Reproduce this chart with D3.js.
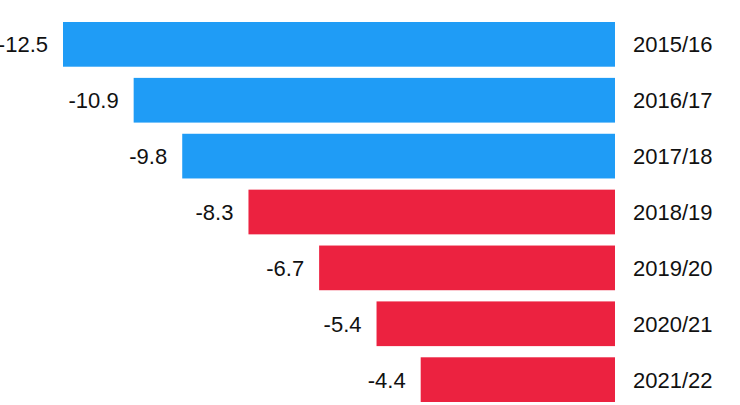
<!DOCTYPE html>
<html>
<head>
<meta charset="utf-8">
<script src="https://cdn.jsdelivr.net/npm/d3@7"></script>
<style>
  body { margin: 0; background: #fff; }
  svg text { font-family: "Liberation Sans", Arial, sans-serif; fill: #111; }
</style>
</head>
<body>
<div id="chart"></div>
<script>
// Data
var years  = ["2015/16", "2016/17", "2017/18", "2018/19", "2019/20", "2020/21", "2021/22"];
var values = [-12.5, -10.9, -9.8, -8.3, -6.7, -5.4, -4.4];
var groups = ["blue", "blue", "blue", "red", "red", "red", "red"];

var width = 740, height = 405;

var colors = { blue: "#1f9cf6", red: "#ec2240" };

var svg = d3.select("#chart")
  .append("svg")
    .attr("width", width)
    .attr("height", height);

// scales
var x = d3.scaleLinear()
  .domain([-12.5, 0])
  .range([63, 615]);

var y = d3.scaleBand()
  .domain(years)
  .range([22, 402])
  .paddingInner(0.2)
  .paddingOuter(0);

var rows = years.map(function(d, i) {
  return { year: d, value: values[i], group: groups[i] };
});

var g = svg.append("g").attr("class", "bars");

g.selectAll("rect")
  .data(rows)
  .enter()
  .append("rect")
    .attr("x", function(d) { return x(d.value); })
    .attr("y", function(d) { return y(d.year); })
    .attr("width", function(d) { return x(0) - x(d.value); })
    .attr("height", y.bandwidth())
    .style("fill", function(d) { return colors[d.group]; });

// value labels, left of bar (plain hyphen like the original)
g.selectAll("text.value")
  .data(rows)
  .enter()
  .append("text")
    .attr("class", "value")
    .attr("x", function(d) { return x(d.value) - 15; })
    .attr("y", function(d) { return y(d.year) + y.bandwidth() / 2; })
    .attr("dy", "0.36em")
    .attr("text-anchor", "end")
    .style("font-size", "22px")
    .text(function(d) { return d.value.toFixed(1); });

// year labels, right of zero line
g.selectAll("text.year")
  .data(rows)
  .enter()
  .append("text")
    .attr("class", "year")
    .attr("x", x(0) + 18)
    .attr("y", function(d) { return y(d.year) + y.bandwidth() / 2; })
    .attr("dy", "0.36em")
    .style("font-size", "22px")
    .text(function(d) { return d.year; });
</script>
</body>
</html>
